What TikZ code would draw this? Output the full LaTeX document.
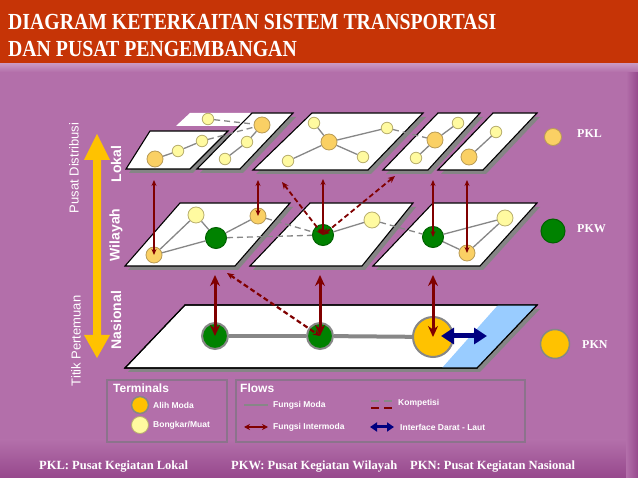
\documentclass[tikz,border=0pt]{standalone}
\usepackage{fontspec}
\setmainfont{Liberation Serif}
\setsansfont{Liberation Sans}
\usetikzlibrary{arrows.meta}

\definecolor{banner}{RGB}{198,52,6}
\definecolor{ungu}{RGB}{179,111,170}
\definecolor{ungugelap}{RGB}{150,72,140}
\definecolor{emas}{RGB}{255,194,0}
\definecolor{pklfill}{RGB}{250,208,100}
\definecolor{pklline}{RGB}{185,155,85}
\definecolor{bmfill}{RGB}{255,250,160}
\definecolor{bmline}{RGB}{185,175,110}
\definecolor{hijau}{RGB}{0,130,0}
\definecolor{merah}{RGB}{128,0,0}
\definecolor{navy}{RGB}{0,0,128}
\definecolor{garis}{RGB}{135,135,135}
\definecolor{laut}{RGB}{153,204,255}
\definecolor{kotakline}{RGB}{140,115,140}

\begin{document}
\begin{tikzpicture}[x=1pt, y=-1pt,
  slab/.style={fill=white, draw=black, line width=1.1pt},
  bayang/.style={fill=black!48},
  pkl/.style={circle, fill=pklfill, draw=pklline, line width=0.8pt, inner sep=0pt, minimum size=16pt},
  bm/.style={circle, fill=bmfill, draw=bmline, line width=0.8pt, inner sep=0pt, minimum size=16pt},
  bmkecil/.style={bm, minimum size=11.5pt},
  pkw/.style={circle, fill=hijau, draw=hijau!75!black, line width=1pt, inner sep=0pt, minimum size=21pt},
  pkwbesar/.style={pkw, draw=garis, line width=2pt, minimum size=26pt},
  pkn/.style={circle, fill=emas, draw=garis, line width=2pt, inner sep=0pt, minimum size=40pt},
  moda/.style={draw=garis, line width=1.3pt},
  modatebal/.style={draw=garis, line width=4pt},
  komp/.style={draw=garis, line width=1.3pt, dash pattern=on 6pt off 4pt},
  inter/.style={draw=merah, line width=1.3pt, {Stealth[length=6pt,width=5pt]}-{Stealth[length=6pt,width=5pt]}},
  intertebal/.style={draw=merah, line width=3pt, {Stealth[length=11pt,width=10pt]}-{Stealth[length=11pt,width=10pt]}},
  kompmerah/.style={draw=merah, line width=1.8pt, dash pattern=on 5pt off 3pt, {Stealth[length=7pt,width=6pt]}-{Stealth[length=7pt,width=6pt]}},
  antarmuka/.style={draw=navy, line width=5pt, {Triangle[length=13pt,width=16pt]}-{Triangle[length=13pt,width=16pt]}},
  lapis/.style={rotate=90, text=white, font=\sffamily\bfseries\fontsize{14}{16}\selectfont},
  sisi/.style={rotate=90, text=white, font=\sffamily\fontsize{13}{15}\selectfont},
  judul/.style={anchor=base west, inner sep=0pt, text=white, xscale=0.86, font=\bfseries\fontsize{23}{26}\selectfont},
  kaki/.style={anchor=base west, inner sep=0pt, text=white, font=\bfseries\fontsize{12.5}{14}\selectfont},
  kunci/.style={anchor=west, inner sep=0pt, text=white, font=\bfseries\fontsize{12}{14}\selectfont},
  legjudul/.style={anchor=west, inner sep=0pt, text=white, font=\sffamily\bfseries\fontsize{12}{14}\selectfont},
  legteks/.style={anchor=west, inner sep=0pt, text=white, font=\sffamily\bfseries\fontsize{8.5}{10}\selectfont},
  kotak/.style={draw=kotakline, line width=1.5pt},
]
  \useasboundingbox (0,0) rectangle (638,478);
  % Background
  \fill[ungu] (0,0) rectangle (638,478);
  \fill[top color=ungu, bottom color=ungugelap] (0,440) rectangle (638,478);
  \fill[left color=ungu, right color=ungugelap] (626,63) rectangle (638,478);
  \fill[top color=ungu!70!white, bottom color=ungu] (0,63) rectangle (638,72);
  \fill[banner] (0,0) rectangle (638,63);
  \node[judul] (judul1) at (8,30) {DIAGRAM KETERKAITAN SISTEM TRANSPORTASI};
  \node[judul] (judul2) at (8,57) {DAN PUSAT PENGEMBANGAN};

  % Side arrow and labels
  \fill[emas] (97,134) -- (110,160) -- (101,160) -- (101,335) -- (110,335) -- (97,358)
    -- (84,335) -- (93,335) -- (93,160) -- (84,160) -- cycle;
  \node[sisi] (distribusi) at (74,168) {Pusat Distribusi};
  \node[sisi] (pertemuan) at (76,341) {Titik Pertemuan};
  \node[lapis] (lokal) at (116,164) {Lokal};
  \node[lapis] (wilayah) at (116,235) {Wilayah};
  \node[lapis] (nasional) at (116,320) {Nasional};

  % Panels
  \fill[white] (176,126) -- (250,126) -- (264,113) -- (190,113) -- cycle;
  \foreach \ax/\ay/\bx/\by/\cx/\cy/\dx/\dy in {
      126/169/190/169/228/131/150/131, 197/169/240/169/293/113/252/113,
      253/170/368/170/423/113/312/113, 383/170/428/170/480/113/438/113,
      438/170/483/170/537/113/493/113,
      125/266/235/266/290/203/180/203, 250/266/362/266/413/203/310/203,
      373/266/480/266/537/203/433/203,
      125/368/477/368/537/305/185/305}{
    \fill[bayang] (\ax+3,\ay+4) -- (\bx+3,\by+4) -- (\cx+3,\cy+4) -- (\dx+3,\dy+4) -- cycle;
    \draw[slab] (\ax,\ay) -- (\bx,\by) -- (\cx,\cy) -- (\dx,\dy) -- cycle;
  }
  \fill[laut] (442,368) -- (477,368) -- (537,305) -- (498,305) -- cycle;
  \draw[slab, fill=none] (125,368) -- (477,368) -- (537,305) -- (185,305) -- cycle;

  % Lokal nodes
  \node[bmkecil] (l0) at (208,119) {};
  \node[pkl] (l1) at (155,159) {};
  \node[bmkecil] (l2) at (178,151) {};
  \node[bmkecil] (l3) at (202,141) {};
  \node[pkl] (l4) at (262,125) {};
  \node[bmkecil] (l5) at (247,142) {};
  \node[bmkecil] (l6) at (225,159) {};
  \node[pkl] (l7) at (329,142) {};
  \node[bmkecil] (l8) at (314,123) {};
  \node[bmkecil] (l9) at (387,128) {};
  \node[bmkecil] (l10) at (288,161) {};
  \node[bmkecil] (l11) at (363,157) {};
  \node[pkl] (l12) at (435,140) {};
  \node[bmkecil] (l13) at (458,123) {};
  \node[bmkecil] (l14) at (416,158) {};
  \node[pkl] (l15) at (469,157) {};
  \node[bmkecil] (l16) at (496,132) {};
  \draw[moda] (l1) -- (l2) -- (l3);
  \draw[moda] (l4) -- (l5) -- (l6);
  \draw[komp] (l0) -- (l4);
  \draw[komp] (l3) -- (l4);
  \foreach \n in {l8,l9,l10,l11}
    \draw[moda] (l7) -- (\n);
  \draw[komp] (l9) -- (l12);
  \draw[moda] (l12) -- (l13);
  \draw[moda] (l12) -- (l14);
  \draw[moda] (l15) -- (l16);

  % Wilayah nodes
  \node[bm] (w1) at (196,215) {};
  \node[pkl] (w2) at (258,216) {};
  \node[pkw] (w3) at (216,238) {};
  \node[pkl] (w4) at (154,255) {};
  \node[pkw] (w5) at (323,235) {};
  \node[bm] (w6) at (372,220) {};
  \node[pkw] (w7) at (433,237) {};
  \node[bm] (w8) at (505,218) {};
  \node[pkl] (w9) at (467,253) {};
  \draw[moda] (w4) -- (w1);
  \draw[moda] (w4) -- (w3);
  \draw[moda] (w1) -- (w3);
  \draw[moda] (w3) -- (w2);
  \draw[komp] (w3) -- (w5);
  \draw[komp] (w2) -- (w5);
  \draw[moda] (w5) -- (w6);
  \draw[komp] (w6) -- (w7);
  \draw[moda] (w7) -- (w8);
  \draw[moda] (w7) -- (w9);
  \draw[moda] (w9) -- (w8);

  % Nasional nodes
  \node[pkwbesar] (n1) at (215,336) {};
  \node[pkwbesar] (n2) at (320,336) {};
  \node[pkn] (n3) at (433,337) {};
  \draw[modatebal] (n1) -- (n2);
  \draw[modatebal] (n2) -- (n3);
  \coordinate (darat) at (441,336);
  \coordinate (laut) at (487,336);
  \draw[antarmuka] (darat) -- (laut);

  % Intermoda flows
  \coordinate (t1) at (154,180);
  \coordinate (t2) at (258,180);
  \coordinate (t3) at (323,179);
  \coordinate (t4) at (433,180);
  \coordinate (t5) at (467,180);
  \coordinate (k1) at (282,182);
  \coordinate (k2) at (395,176);
  \coordinate (m1) at (215,275);
  \coordinate (m2) at (320,275);
  \coordinate (m3) at (433,275);
  \coordinate (k3) at (227,273);
  \draw[inter] (t1) -- (w4.center);
  \draw[inter] (t2) -- (w2.center);
  \draw[inter] (t3) -- (w5.center);
  \draw[inter] (t4) -- (w7.center);
  \draw[inter] (t5) -- (w9.center);
  \draw[kompmerah] (k1) -- (w5.center);
  \draw[kompmerah] (k2) -- (w5.center);
  \draw[intertebal] (m1) -- (n1.center);
  \draw[intertebal] (m2) -- (n2.center);
  \draw[intertebal] (m3) -- (n3.center);
  \draw[kompmerah, line width=2.2pt] (k3) -- (n2.center);

  % Key on the right
  \node[pkl, minimum size=17pt] (kpkl) at (553,137) {};
  \node[kunci] (tpkl) at (577,134) {PKL};
  \node[pkw, minimum size=24pt] (kpkw) at (553,231) {};
  \node[kunci] (tpkw) at (577,229) {PKW};
  \node[pkn, minimum size=29pt, line width=1.5pt] (kpkn) at (555,344) {};
  \node[kunci] (tpkn) at (582,345) {PKN};

  % Legend
  \draw[kotak] (107,380) rectangle (227,442);
  \draw[kotak] (236,380) rectangle (525,442);
  \node[legjudul] (terminal) at (113,388) {Terminals};
  \node[circle, fill=emas, draw=garis, line width=1.5pt, minimum size=17pt] (alih) at (140,405) {};
  \node[legteks] (talih) at (153,405) {Alih Moda};
  \node[bm, minimum size=17pt] (bongkar) at (140,425) {};
  \node[legteks] (tbongkar) at (153,425) {Bongkar/Muat};
  \node[legjudul] (flows) at (240,388) {Flows};
  \coordinate (fm1) at (244,405);
  \coordinate (fm2) at (268,405);
  \draw[moda, line width=2pt] (fm1) -- (fm2);
  \node[legteks] (tmoda) at (273,405) {Fungsi Moda};
  \coordinate (fi1) at (244,427);
  \coordinate (fi2) at (268,427);
  \draw[draw=merah, line width=2pt, {Stealth[length=6pt,width=6pt]}-{Stealth[length=6pt,width=6pt]}] (fi1) -- (fi2);
  \node[legteks] (tintermoda) at (273,427) {Fungsi Intermoda};
  \coordinate (kg1) at (371,401);
  \coordinate (kg2) at (392,401);
  \coordinate (km1) at (371,408);
  \coordinate (km2) at (392,408);
  \draw[draw=garis, line width=1.5pt, dash pattern=on 8pt off 5pt] (kg1) -- (kg2);
  \draw[draw=merah, line width=1.5pt, dash pattern=on 8pt off 5pt] (km1) -- (km2);
  \node[legteks] (tkomp) at (398,403) {Kompetisi};
  \coordinate (ia1) at (370,427);
  \coordinate (ia2) at (394,427);
  \draw[draw=navy, line width=3pt, {Triangle[length=7pt,width=9pt]}-{Triangle[length=7pt,width=9pt]}] (ia1) -- (ia2);
  \node[legteks] (tantarmuka) at (400,427) {Interface Darat - Laut};

  % Footer
  \node[kaki] (kakipkl) at (39,470) {PKL: Pusat Kegiatan Lokal};
  \node[kaki] (kakipkw) at (231,470) {PKW: Pusat Kegiatan Wilayah};
  \node[kaki] (kakipkn) at (410,470) {PKN: Pusat Kegiatan Nasional};
\end{tikzpicture}
\end{document}
